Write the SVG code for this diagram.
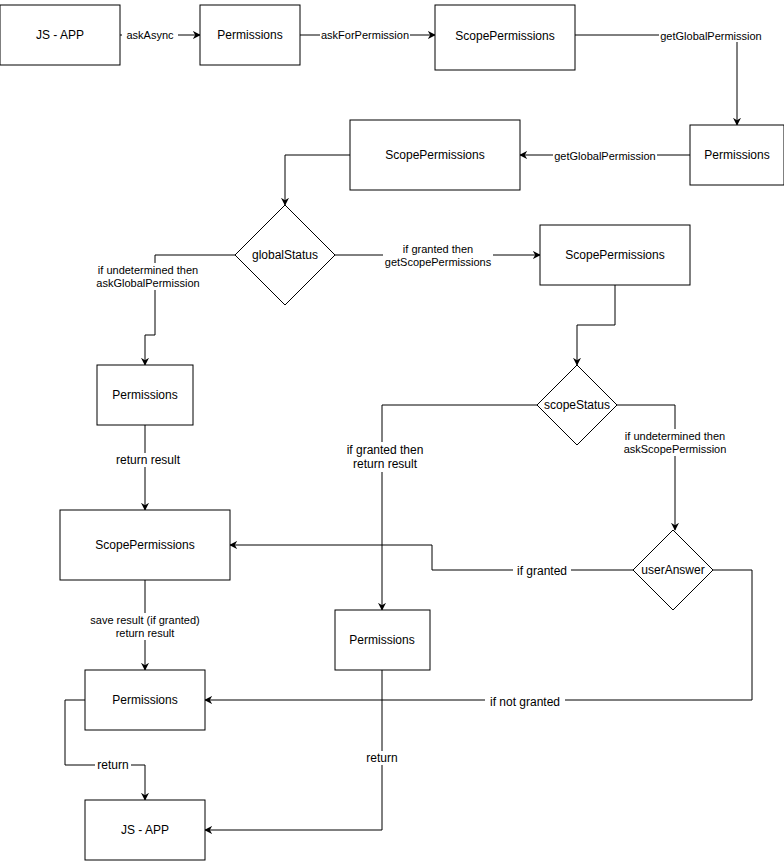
<svg xmlns="http://www.w3.org/2000/svg" width="784" height="861" viewBox="0 0 784 861">
<style>
.n{fill:#fff;stroke:#000;stroke-width:1}
.t{font-family:"Liberation Sans",Arial,sans-serif;font-size:12px;text-anchor:middle;dominant-baseline:central;fill:#000}
.e{fill:none;stroke:#000;stroke-width:1;marker-end:url(#a)}
.l{font-family:"Liberation Sans",Arial,sans-serif;font-size:11px;text-anchor:middle;dominant-baseline:central;fill:#000}
.L{font-family:"Liberation Sans",Arial,sans-serif;font-size:12px;text-anchor:middle;dominant-baseline:central;fill:#000}
.bg{fill:#fff}
</style>
<defs><marker id="a" viewBox="0 0 10 10" refX="9" refY="5" markerWidth="8" markerHeight="8" orient="auto" markerUnits="userSpaceOnUse"><path d="M0,0 L10,5 L0,10 L3,5 Z" fill="#000"/></marker></defs>
<rect width="784" height="861" fill="#fff"/>
<g id="connectors">
<path class="e" d="M120,35H200"/>
<path class="e" d="M300,35H435"/>
<path class="e" d="M575,35H737V125"/>
<path class="e" d="M690,155H520"/>
<path class="e" d="M350,155H285V205"/>
<path class="e" d="M335,255H540"/>
<path class="e" d="M235,255H155V335H145V365"/>
<path class="e" d="M615,285V325H577V365"/>
<path class="e" d="M537,405H382V610"/>
<path class="e" d="M617,405H675V530"/>
<path class="e" d="M633,570H432V545H230"/>
<path class="e" d="M713,570H752V700H205"/>
<path class="e" d="M145,425V510"/>
<path class="e" d="M145,580V670"/>
<path class="e" d="M85,700H65V765H145V800"/>
<path class="e" d="M382,670V830H205"/>
<g>
<rect class="bg" x="122" y="29" width="56" height="13"/><text class="l" x="150" y="35">askAsync</text>
<rect class="bg" x="320" y="29" width="90" height="13"/><text class="l" x="365" y="35">askForPermission</text>
<rect class="bg" x="659" y="29" width="104" height="13"/><text class="l" x="711" y="36">getGlobalPermission</text>
<rect class="bg" x="553" y="149" width="104" height="13"/><text class="l" x="605" y="156">getGlobalPermission</text>
<rect class="bg" x="383" y="242" width="110" height="27"/><text class="l" x="438" y="249">if granted then</text><text class="l" x="438" y="262">getScopePermissions</text>
<rect class="bg" x="90" y="263" width="116" height="27"/><text class="l" x="148" y="270">if undetermined then</text><text class="l" x="148" y="283">askGlobalPermission</text>
<rect class="bg" x="345" y="442" width="80" height="30"/><text class="L" x="385" y="450">if granted then</text><text class="L" x="385" y="464">return result</text>
<rect class="bg" x="620" y="429" width="110" height="27"/><text class="l" x="675" y="436">if undetermined then</text><text class="l" x="675" y="449">askScopePermission</text>
<rect class="bg" x="513" y="564" width="58" height="14"/><text class="L" x="542" y="571">if granted</text>
<rect class="bg" x="485" y="695" width="80" height="14"/><text class="L" x="525" y="702">if not granted</text>
<rect class="bg" x="108" y="453" width="80" height="14"/><text class="L" x="148" y="460">return result</text>
<rect class="bg" x="86" y="613" width="118" height="27"/><text class="l" x="145" y="620">save result (if granted)</text><text class="l" x="145" y="633">return result</text>
<rect class="bg" x="95" y="758" width="36" height="14"/><text class="L" x="113" y="765">return</text>
<rect class="bg" x="363" y="751" width="38" height="14"/><text class="L" x="382" y="758">return</text>
</g>
</g>
<g id="js1"><rect class="n" x="0" y="5" width="120" height="60"/><text class="t" x="60" y="35">JS - APP</text></g>
<g id="perm1"><rect class="n" x="200" y="5" width="100" height="60"/><text class="t" x="250" y="35">Permissions</text></g>
<g id="scope1"><rect class="n" x="435" y="5" width="140" height="65"/><text class="t" x="505" y="36">ScopePermissions</text></g>
<g id="perm2"><rect class="n" x="690" y="125" width="94" height="60"/><text class="t" x="737" y="155">Permissions</text></g>
<g id="scope2"><rect class="n" x="350" y="120" width="170" height="70"/><text class="t" x="435" y="155">ScopePermissions</text></g>
<g id="globalStatus"><path class="n" d="M285,205L335,255L285,305L235,255Z"/><text class="t" x="285" y="255">globalStatus</text></g>
<g id="scope3"><rect class="n" x="540" y="225" width="150" height="60"/><text class="t" x="615" y="255">ScopePermissions</text></g>
<g id="perm3"><rect class="n" x="97" y="365" width="96" height="60"/><text class="t" x="145" y="395">Permissions</text></g>
<g id="scopeStatus"><path class="n" d="M577,365L617,405L577,445L537,405Z"/><text class="t" x="577" y="405">scopeStatus</text></g>
<g id="scope4"><rect class="n" x="60" y="510" width="170" height="70"/><text class="t" x="145" y="545">ScopePermissions</text></g>
<g id="userAnswer"><path class="n" d="M673,530L713,570L673,610L633,570Z"/><text class="t" x="673" y="570">userAnswer</text></g>
<g id="perm4"><rect class="n" x="335" y="610" width="95" height="60"/><text class="t" x="382" y="640">Permissions</text></g>
<g id="perm5"><rect class="n" x="85" y="670" width="120" height="60"/><text class="t" x="145" y="700">Permissions</text></g>
<g id="js2"><rect class="n" x="85" y="800" width="120" height="60"/><text class="t" x="145" y="830">JS - APP</text></g>
</svg>
